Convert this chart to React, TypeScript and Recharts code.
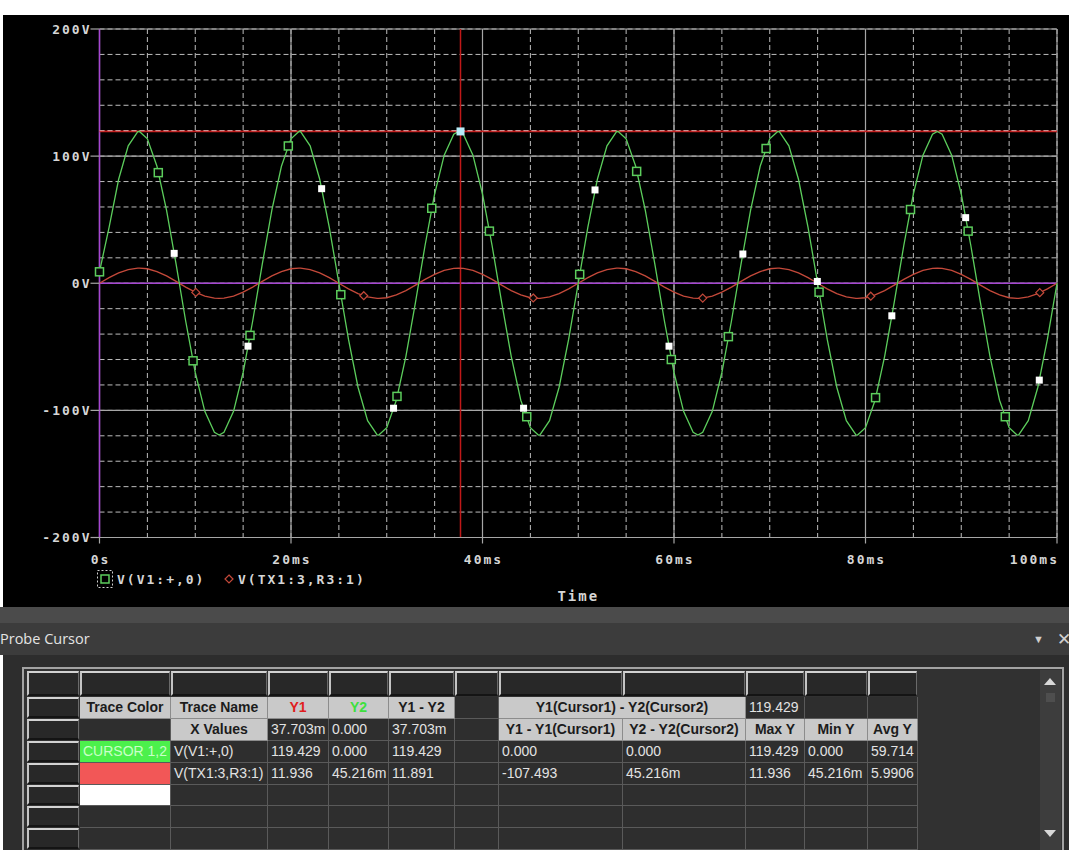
import {
  ComposedChart,
  Line,
  Scatter,
  XAxis,
  YAxis,
  CartesianGrid,
  ReferenceLine,
  Legend
} from "recharts";

// sample times (ms) of the two traces
const timeMs = [
  0, 1, 2, 3, 4, 4.17, 5, 6, 7, 8, 9, 10,
  11, 12, 12.5, 13, 14, 15, 16, 17, 18, 19, 20, 20.83,
  21, 22, 23, 24, 25, 26, 27, 28, 29, 29.17, 30, 31,
  32, 33, 34, 35, 36, 37, 37.5, 38, 39, 40, 41, 42,
  43, 44, 45, 45.83, 46, 47, 48, 49, 50, 51, 52, 53,
  54, 54.17, 55, 56, 57, 58, 59, 60, 61, 62, 62.5, 63,
  64, 65, 66, 67, 68, 69, 70, 70.83, 71, 72, 73, 74,
  75, 76, 77, 78, 79, 79.17, 80, 81, 82, 83, 84, 85,
  86, 87, 87.5, 88, 89, 90, 91, 92, 93, 94, 95, 95.83,
  96, 97, 98, 99, 100
];

// V(V1:+,0)
const v1Values = [
  9, 44.0, 81.8, 108.1, 119.2, 119.4, 113.6, 92.0, 57.5, 15.0, -29.7, -70.2,
  -100.8, -117.3, -119.4, -117.3, -100.8, -70.2, -29.7, 15.0, 57.5, 92.0, 113.6, 119.4,
  119.2, 108.1, 81.8, 44.0, 0, -44.0, -81.8, -108.1, -119.2, -119.4, -113.6, -92.0,
  -57.5, -15.0, 29.7, 70.2, 100.8, 117.3, 119.4, 117.3, 100.8, 70.2, 29.7, -15.0,
  -57.5, -92.0, -113.6, -119.4, -119.2, -108.1, -81.8, -44.0, 0, 44.0, 81.8, 108.1,
  119.2, 119.4, 113.6, 92.0, 57.5, 15.0, -29.7, -70.2, -100.8, -117.3, -119.4, -117.3,
  -100.8, -70.2, -29.7, 15.0, 57.5, 92.0, 113.6, 119.4, 119.2, 108.1, 81.8, 44.0,
  0, -44.0, -81.8, -108.1, -119.2, -119.4, -113.6, -92.0, -57.5, -15.0, 29.7, 70.2,
  100.8, 117.3, 119.4, 117.3, 100.8, 70.2, 29.7, -15.0, -57.5, -92.0, -113.6, -119.4,
  -119.2, -108.1, -81.8, -44.0, 0
];

// V(TX1:3,R3:1)
const tx1Values = [
  0, 4.4, 8.2, 10.8, 11.9, 11.94, 11.4, 9.2, 5.8, 1.5, -3.0, -7.0,
  -10.1, -11.7, -11.94, -11.7, -10.1, -7.0, -3.0, 1.5, 5.8, 9.2, 11.4, 11.94,
  11.9, 10.8, 8.2, 4.4, 0, -4.4, -8.2, -10.8, -11.9, -11.94, -11.4, -9.2,
  -5.8, -1.5, 3.0, 7.0, 10.1, 11.7, 11.94, 11.7, 10.1, 7.0, 3.0, -1.5,
  -5.8, -9.2, -11.4, -11.94, -11.9, -10.8, -8.2, -4.4, 0, 4.4, 8.2, 10.8,
  11.9, 11.94, 11.4, 9.2, 5.8, 1.5, -3.0, -7.0, -10.1, -11.7, -11.94, -11.7,
  -10.1, -7.0, -3.0, 1.5, 5.8, 9.2, 11.4, 11.94, 11.9, 10.8, 8.2, 4.4,
  0, -4.4, -8.2, -10.8, -11.9, -11.94, -11.4, -9.2, -5.8, -1.5, 3.0, 7.0,
  10.1, 11.7, 11.94, 11.7, 10.1, 7.0, 3.0, -1.5, -5.8, -9.2, -11.4, -11.94,
  -11.9, -10.8, -8.2, -4.4, 0
];

// trace symbols
const v1MarkT = [0, 6.14, 9.77, 15.72, 19.72, 25.2, 31.07, 34.7, 40.72, 44.62, 50.15, 56.1, 59.72, 65.68, 69.62, 75.15, 81.05, 84.7, 90.72, 94.6];
const v1MarkV = [9, 87, -61, -41, 108, -9, -89, 59, 41, -105, 7, 88, -60, -42, 106, -7, -90, 58, 41, -105];
const whiteMarkT = [7.8, 15.51, 23.2, 30.71, 44.29, 51.75, 59.48, 67.19, 74.97, 82.75, 90.46, 98.15];
const whiteMarkV = [23.5, -49.5, 74.4, -98.3, -98.3, 73.4, -49.5, 23, 1.4, -25.6, 51.6, -76.2];
const tx1MarkT = [10.06, 27.6, 45.3, 63.0, 80.55, 98.2];
const tx1MarkV = [-7.2, -9.8, -11.6, -11.7, -10.2, -7.4];

const cursor1T = 37.703;
const cursor1V = 119.429;
const cursor2T = 0;
const cursor2V = 0;

const xTicks = [0, 5, 10, 15, 20, 25, 30, 35, 40, 45, 50, 55, 60, 65, 70, 75, 80, 85, 90, 95, 100];
const xMajor = [0, 20, 40, 60, 80, 100];
const xLabels = ["0s", "20ms", "40ms", "60ms", "80ms", "100ms"];
const yTicks = [-200, -180, -160, -140, -120, -100, -80, -60, -40, -20, 0, 20, 40, 60, 80, 100, 120, 140, 160, 180, 200];
const yMajor = [-200, -100, 0, 100, 200];
const yLabels = ["-200V", "-100V", "0V", "100V", "200V"];

const legendNames = ["V(V1:+,0)", "V(TX1:3,R3:1)"];

// probe cursor table
const colEdges = [27, 80, 171, 268, 329, 389, 455, 499, 623, 746, 805, 868, 918];
const rowEdges = [671, 697, 719, 741, 763, 785, 806, 828, 850];
const xValuesRow = ["37.703m", "0.000", "37.703m"];
const v1Row = ["119.429", "0.000", "119.429", "", "0.000", "0.000", "119.429", "0.000", "59.714"];
const tx1Row = ["11.936", "45.216m", "11.891", "", "-107.493", "45.216m", "11.936", "45.216m", "5.9906"];
const statHeads = ["Y1 - Y1(Cursor1)", "Y2 - Y2(Cursor2)", "Max Y", "Min Y", "Avg Y"];
const cursorDelta = "119.429";

const chartRows = timeMs.map((t, i) => ({ t, v1: v1Values[i], tx1: tx1Values[i] }));
const v1Marks = v1MarkT.map((t, i) => ({ t, v: v1MarkV[i] }));
const whiteMarks = whiteMarkT.map((t, i) => ({ t, v: whiteMarkV[i] }));
const tx1Marks = tx1MarkT.map((t, i) => ({ t, v: tx1MarkV[i] }));

const GREEN = "#5ccd5c";
const RED = "#c4493a";
const GRID = "#bdbdbd";
const MAJOR = "#a6a6a6";
const monoText = {
  fontFamily: "'DejaVu Sans Mono', monospace",
  fontWeight: "bold" as const,
  fontSize: 13,
  letterSpacing: 2,
  fill: "#d6d6d6"
};

function XTick(props: any) {
  const { x, y, payload } = props;
  const idx = xMajor.indexOf(payload.value);
  if (idx < 0) return null;
  const axisY = y - 8;
  const last = idx === xMajor.length - 1;
  return (
    <g>
      <line x1={x} x2={x} y1={axisY} y2={axisY + 6} stroke={MAJOR} strokeWidth={1.2} />
      <text x={last ? x + 2 : x + 1} y={axisY + 26} textAnchor={last ? "end" : "middle"} style={monoText}>
        {xLabels[idx]}
      </text>
    </g>
  );
}

function YTick(props: any) {
  const { x, y, payload } = props;
  const idx = yMajor.indexOf(payload.value);
  if (idx < 0) return null;
  const axisX = x + 10;
  return (
    <g>
      <line x1={axisX - 9} x2={axisX} y1={y} y2={y} stroke={MAJOR} strokeWidth={1.2} />
      <text x={axisX - 8} y={y} dy="0.36em" textAnchor="end" style={monoText}>
        {yLabels[idx]}
      </text>
    </g>
  );
}

const GreenSquare = (p: any) => (
  <rect x={p.cx - 4} y={p.cy - 4} width={8} height={8} fill="#050505" stroke={GREEN} strokeWidth={1.5} />
);
const WhiteSquare = (p: any) => (
  <rect x={p.cx - 3.5} y={p.cy - 3.5} width={7} height={7} fill="#ffffff" />
);
const RedDiamond = (p: any) => (
  <polygon
    points={`${p.cx},${p.cy - 4} ${p.cx + 4},${p.cy} ${p.cx},${p.cy + 4} ${p.cx - 4},${p.cy}`}
    fill="#050505"
    stroke={RED}
    strokeWidth={1.2}
  />
);
const CursorSquare = (p: any) => (
  <rect x={p.cx - 4} y={p.cy - 4} width={8} height={8} fill="#b8ecf8" />
);

function LegendBox() {
  return (
    <svg width={320} height={24}>
      <rect x={4.5} y={2.5} width={15} height={17} fill="none" stroke="#cfcfcf" strokeDasharray="2 2" />
      <rect x={8} y={7} width={8} height={8} fill="none" stroke={GREEN} strokeWidth={1.5} />
      <text x={24} y={16} style={monoText}>{legendNames[0]}</text>
      <polygon points="136,7 140,11 136,15 132,11" fill="none" stroke={RED} strokeWidth={1.2} />
      <text x={145} y={16} style={monoText}>{legendNames[1]}</text>
    </svg>
  );
}

function ScopeChart() {
  return (
    <ComposedChart
      width={1066}
      height={592}
      data={chartRows}
      margin={{ top: 14, right: 12, left: 6.5, bottom: 2 }}
    >
      <CartesianGrid stroke={GRID} strokeDasharray="5 3" strokeWidth={1} />
      <XAxis
        dataKey="t"
        type="number"
        domain={[0, 100]}
        ticks={xTicks}
        interval={0}
        height={67.5}
        tickSize={6}
        tickMargin={2}
        tickLine={false}
        axisLine={{ stroke: MAJOR, strokeWidth: 1.2 }}
        tick={<XTick />}
        label={{
          value: "Time",
          position: "insideBottom",
          offset: 4,
          style: { ...monoText, fontSize: 14 }
        }}
      />
      <YAxis
        type="number"
        domain={[-200, 200]}
        ticks={yTicks}
        interval={0}
        width={90}
        tickSize={8}
        tickMargin={2}
        tickLine={false}
        axisLine={false}
        tick={<YTick />}
      />
      {xMajor.map((v) => (
        <ReferenceLine key={`vx${v}`} x={v} stroke={MAJOR} strokeWidth={1.2} />
      ))}
      {yMajor.map((v) => (
        <ReferenceLine key={`hy${v}`} y={v} stroke={MAJOR} strokeWidth={1.2} />
      ))}
      <ReferenceLine x={cursor2T} stroke="#a646d2" strokeWidth={1.5} />
      <ReferenceLine y={cursor2V} stroke="#a646d2" strokeWidth={1.5} />
      <ReferenceLine y={cursor1V} stroke="#c81e1e" strokeWidth={1.8} />
      <ReferenceLine y={120} stroke="#d9b0b0" strokeDasharray="5 3" strokeWidth={0.8} />
      <ReferenceLine x={cursor1T} stroke="#c01818" strokeWidth={1.5} />
      <Line type="linear" dataKey="tx1" stroke={RED} strokeWidth={1.3} dot={false} isAnimationActive={false} />
      <Line type="linear" dataKey="v1" stroke={GREEN} strokeWidth={1.3} dot={false} isAnimationActive={false} />
      <Scatter data={tx1Marks} dataKey="v" shape={RedDiamond} isAnimationActive={false} />
      <Scatter data={v1Marks} dataKey="v" shape={GreenSquare} isAnimationActive={false} />
      <Scatter data={whiteMarks} dataKey="v" shape={WhiteSquare} isAnimationActive={false} />
      <Scatter data={[{ t: cursor1T, v: cursor1V }]} dataKey="v" shape={CursorSquare} isAnimationActive={false} />
      <Legend
        layout="vertical"
        align="center"
        verticalAlign="middle"
        content={() => <LegendBox />}
        wrapperStyle={{ left: 90, top: 553, width: 320, height: 24 }}
      />
    </ComposedChart>
  );
}

const cellFont = "'Liberation Sans', Arial, sans-serif";

function Box(props: {
  c0: number;
  c1: number;
  r: number;
  bg?: string;
  head?: boolean;
  color?: string;
  center?: boolean;
  children?: any;
}) {
  const { c0, c1, r, bg, head, color, center, children } = props;
  const x0 = colEdges[c0];
  const x1 = colEdges[c1];
  const y0 = rowEdges[r];
  const y1 = rowEdges[r + 1];
  return (
    <div
      style={{
        position: "absolute",
        left: x0,
        top: y0,
        width: x1 - x0,
        height: y1 - y0,
        boxSizing: "border-box",
        background: bg || "#2e2e2e",
        borderRight: head ? "1px solid #8c8c8c" : "1px solid #5a5a5a",
        borderBottom: head ? "1px solid #8c8c8c" : "1px solid #5a5a5a",
        color: color || (head ? "#1c1c1c" : "#e2e2e2"),
        fontWeight: head ? "bold" : "normal",
        fontSize: 14,
        fontFamily: cellFont,
        lineHeight: `${y1 - y0 - 1}px`,
        textAlign: center ? "center" : "left",
        paddingLeft: center ? 0 : 3,
        whiteSpace: "nowrap",
        overflow: "hidden"
      }}
    >
      {children}
    </div>
  );
}

function Bevel(props: { c: number; r: number }) {
  const x0 = colEdges[props.c];
  const x1 = colEdges[props.c + 1];
  const y0 = rowEdges[props.r];
  const y1 = rowEdges[props.r + 1];
  return (
    <div
      style={{
        position: "absolute",
        left: x0,
        top: y0,
        width: x1 - x0 - 1,
        height: y1 - y0 - 1,
        boxSizing: "border-box",
        background: "#282828",
        borderTop: "2px solid #d2d2d2",
        borderLeft: "2px solid #c4c4c4",
        borderRight: "1px solid #6a6a6a",
        borderBottom: "2px solid #141414"
      }}
    />
  );
}

function ProbeTable() {
  const cells: any[] = [];
  for (let c = 0; c < colEdges.length - 1; c++) cells.push(<Bevel key={`h${c}`} c={c} r={0} />);
  for (let r = 1; r < rowEdges.length - 1; r++) cells.push(<Bevel key={`rh${r}`} c={0} r={r} />);
  const LG = "#c9c9c9";
  // row 1
  cells.push(<Box key="r1a" c0={1} c1={2} r={1} bg={LG} head center>Trace Color</Box>);
  cells.push(<Box key="r1b" c0={2} c1={3} r={1} bg={LG} head center>Trace Name</Box>);
  cells.push(<Box key="r1c" c0={3} c1={4} r={1} bg={LG} head center color="#e01e1e">Y1</Box>);
  cells.push(<Box key="r1d" c0={4} c1={5} r={1} bg={LG} head center color="#3ee03e">Y2</Box>);
  cells.push(<Box key="r1e" c0={5} c1={6} r={1} bg={LG} head center>Y1 - Y2</Box>);
  cells.push(<Box key="r1f" c0={6} c1={7} r={1} />);
  cells.push(<Box key="r1g" c0={7} c1={9} r={1} bg={LG} head center>Y1(Cursor1) - Y2(Cursor2)</Box>);
  cells.push(<Box key="r1h" c0={9} c1={10} r={1}>{cursorDelta}</Box>);
  cells.push(<Box key="r1i" c0={10} c1={11} r={1} />);
  cells.push(<Box key="r1j" c0={11} c1={12} r={1} />);
  // row 2
  cells.push(<Box key="r2a" c0={1} c1={2} r={2} />);
  cells.push(<Box key="r2b" c0={2} c1={3} r={2} bg={LG} head center>X Values</Box>);
  xValuesRow.forEach((v, i) => cells.push(<Box key={`r2x${i}`} c0={3 + i} c1={4 + i} r={2}>{v}</Box>));
  cells.push(<Box key="r2f" c0={6} c1={7} r={2} />);
  statHeads.forEach((v, i) =>
    cells.push(<Box key={`r2s${i}`} c0={7 + i} c1={8 + i} r={2} bg={LG} head center>{v}</Box>)
  );
  // row 3, 4
  cells.push(<Box key="r3a" c0={1} c1={2} r={3} bg="#4cf04c" color="#c9ffc9">CURSOR 1,2</Box>);
  cells.push(<Box key="r3b" c0={2} c1={3} r={3}>{legendNames[0]}</Box>);
  v1Row.forEach((v, i) => cells.push(<Box key={`r3v${i}`} c0={3 + i} c1={4 + i} r={3}>{v}</Box>));
  cells.push(<Box key="r4a" c0={1} c1={2} r={4} bg="#f25757" />);
  cells.push(<Box key="r4b" c0={2} c1={3} r={4}>{legendNames[1]}</Box>);
  tx1Row.forEach((v, i) => cells.push(<Box key={`r4v${i}`} c0={3 + i} c1={4 + i} r={4}>{v}</Box>));
  // rows 5-7
  for (let r = 5; r < 8; r++) {
    for (let c = 1; c < colEdges.length - 1; c++) {
      if (r === 5 && c === 1) cells.push(<Box key={`e${r}${c}`} c0={1} c1={2} r={5} bg="#ffffff" />);
      else cells.push(<Box key={`e${r}_${c}`} c0={c} c1={c + 1} r={r} />);
    }
  }
  return <>{cells}</>;
}

export default function App() {
  return (
    <div
      style={{
        position: "absolute",
        left: 0,
        top: 0,
        width: 1089,
        height: 850,
        background: "#ffffff",
        overflow: "hidden"
      }}
    >
      <div style={{ position: "absolute", left: 3, top: 15, width: 1066, height: 592, background: "#000000" }}>
        <ScopeChart />
      </div>
      <div style={{ position: "absolute", left: 0, top: 607, width: 1069, height: 16, background: "#4b4b4b" }} />
      <div
        style={{
          position: "absolute",
          left: 0,
          top: 623,
          width: 1069,
          height: 32,
          background: "#3c3c3c",
          color: "#e4e4e4",
          fontFamily: "'Open Sans', sans-serif",
          fontSize: 14.5,
          lineHeight: "32px"
        }}
      >
        <span style={{ position: "absolute", left: 0 }}>Probe Cursor</span>
        <span style={{ position: "absolute", left: 1033, fontSize: 11, color: "#cfcfcf" }}>▼</span>
        <span style={{ position: "absolute", left: 1057, fontSize: 17, color: "#cfcfcf" }}>✕</span>
      </div>
      <div style={{ position: "absolute", left: 3, top: 655, width: 1066, height: 195, background: "#2d2d2d" }} />
      <div
        style={{
          position: "absolute",
          left: 22,
          top: 667,
          width: 1042,
          height: 200,
          boxSizing: "border-box",
          border: "2px solid #a3a3a3",
          background: "#313131"
        }}
      />
      <div style={{ position: "absolute", left: 1040, top: 670, width: 21, height: 180, background: "#3d3d3d" }}>
        <div style={{ position: "absolute", left: 4, top: 8, width: 0, height: 0, borderLeft: "6px solid transparent", borderRight: "6px solid transparent", borderBottom: "7px solid #d8d8d8" }} />
        <div style={{ position: "absolute", left: 6, top: 23, width: 9, height: 9, background: "#4e4e4e" }} />
        <div style={{ position: "absolute", left: 4, top: 160, width: 0, height: 0, borderLeft: "6px solid transparent", borderRight: "6px solid transparent", borderTop: "7px solid #d8d8d8" }} />
      </div>
      <ProbeTable />
    </div>
  );
}
